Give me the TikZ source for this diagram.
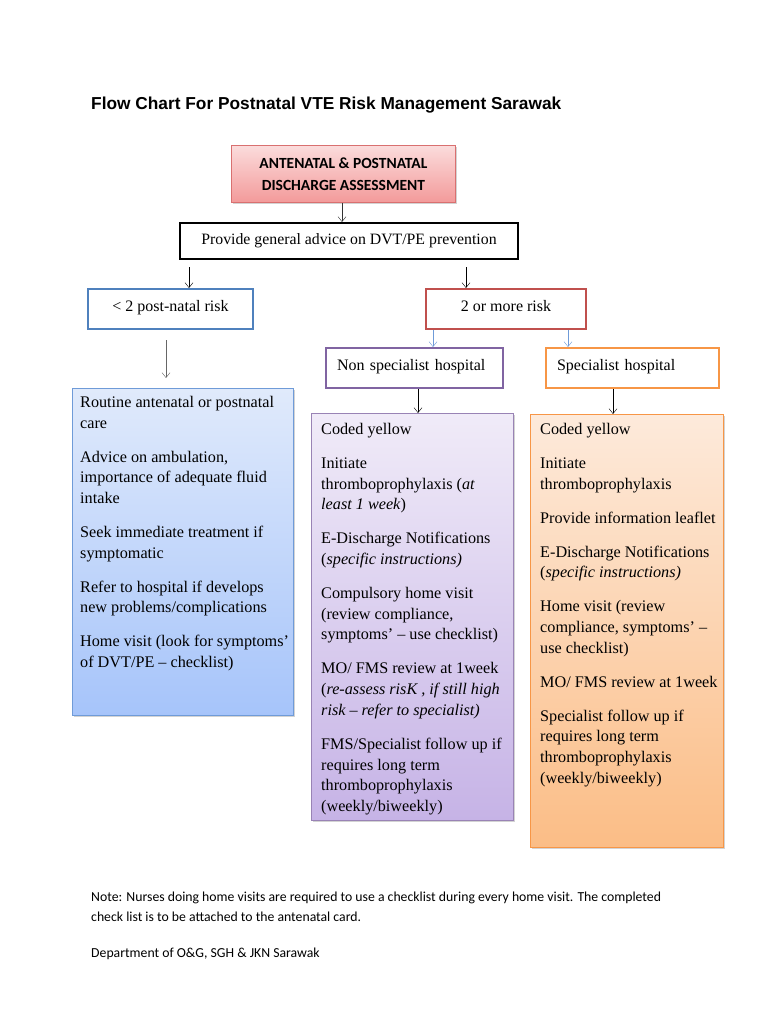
\documentclass[tikz,border=0pt]{standalone}
\usepackage{fontspec}
\setmainfont{Liberation Serif}
\newfontfamily\titlefont{Liberation Sans}
\newfontfamily\notefont{Carlito}
\usetikzlibrary{arrows.meta,shadows}
\tikzset{>={Straight Barb[length=5pt,width=8pt]}}
\definecolor{pinktop}{HTML}{FBDCDC}
\definecolor{pinkbot}{HTML}{F39A9A}
\definecolor{pinkline}{HTML}{D97070}
\definecolor{bluetop}{HTML}{E0EAFB}
\definecolor{bluebot}{HTML}{A6C4FA}
\definecolor{blueline}{HTML}{4F81BD}
\definecolor{bluesoft}{HTML}{6F9BD8}
\definecolor{redline}{HTML}{C0504D}
\definecolor{purptop}{HTML}{F0EBF8}
\definecolor{purpbot}{HTML}{C6B3E6}
\definecolor{purpline}{HTML}{8064A2}
\definecolor{orgtop}{HTML}{FDEADB}
\definecolor{orgbot}{HTML}{FBBD86}
\definecolor{orgline}{HTML}{F79646}
\tikzset{
  boxtext/.style={anchor=north west, inner sep=0pt, align=left,
    font=\fontsize{16.2}{20.7}\selectfont},
  bigbox/.style={draw, line width=0.8pt, anchor=north west,
    drop shadow={shadow xshift=2pt, shadow yshift=-2pt, opacity=0.35}},
  riskbox/.style={draw, line width=2pt, fill=white, anchor=north west,
    font=\fontsize{16}{18}\selectfont}
}
\newcommand{\gap}{\\[13.3pt]}

\begin{document}
\begin{tikzpicture}[x=1pt,y=-1pt]
  \useasboundingbox (0,0) rectangle (768,1024);
  % title
  \node[anchor=base west, inner sep=0pt, font=\titlefont\bfseries\fontsize{17.3}{20}\selectfont]
    (title) at (91,110) {Flow Chart For Postnatal VTE Risk Management Sarawak};
  % top boxes
  \node[bigbox, draw=pinkline, top color=pinktop, bottom color=pinkbot,
    minimum width=224pt, minimum height=57pt, align=center,
    font=\notefont\bfseries\fontsize{15.5}{22}\selectfont]
    (assess) at (231,145) {ANTENATAL \& POSTNATAL\\DISCHARGE ASSESSMENT};
  \node[draw, line width=2pt, anchor=north west, minimum width=338pt, minimum height=36pt,
    font=\fontsize{15.8}{18}\selectfont]
    (advice) at (179,222) {Provide general advice on DVT/PE prevention};
  \node[riskbox, draw=blueline, minimum width=165pt, minimum height=40pt, text depth=6pt]
    (lowrisk) at (87,288) {< 2 post-natal risk};
  \node[riskbox, draw=redline, minimum width=160pt, minimum height=40pt, text depth=6pt]
    (highrisk) at (425,288) {2 or more risk};
  \node[riskbox, draw=purpline, minimum width=177pt, minimum height=40pt, text depth=6pt,
    inner xsep=0pt, text width=155pt, align=left]
    (nonspec) at (325,347) {Non specialist hospital};
  \node[riskbox, draw=orgline, minimum width=173pt, minimum height=40pt, text depth=6pt,
    inner xsep=0pt, text width=151pt, align=left]
    (spec) at (545,347) {Specialist hospital};
  % big boxes
  \node[bigbox, draw=bluesoft, top color=bluetop, bottom color=bluebot,
    minimum width=221pt, minimum height=327pt] (lowcare) at (72,388) {};
  \node[bigbox, draw=purpline!80, top color=purptop, bottom color=purpbot,
    minimum width=202pt, minimum height=407pt] (noncare) at (311,413) {};
  \node[bigbox, draw=orgline, top color=orgtop, bottom color=orgbot,
    minimum width=193pt, minimum height=433pt] (speccare) at (530,414) {};
  \node[boxtext] (lowtext) at ([shift={(8,8)}]lowcare.north west)
    {Routine antenatal or postnatal\\care\gap
     Advice on ambulation,\\importance of adequate fluid\\intake\gap
     Seek immediate treatment if\\symptomatic\gap
     Refer to hospital if develops\\new problems/complications\gap
     Home visit (look for symptoms'\\of DVT/PE -- checklist)};
  \node[boxtext] (nontext) at ([shift={(10,10)}]noncare.north west)
    {Coded yellow\gap
     Initiate\\thromboprophylaxis (\textit{at}\\\textit{least 1 week})\gap
     E-Discharge Notifications\\(\textit{specific instructions)}\gap
     Compulsory home visit\\(review compliance,\\symptoms' -- use checklist)\gap
     MO/ FMS review at 1week\\(\textit{re-assess risK , if still high}\\\textit{risk -- refer to specialist)}\gap
     FMS/Specialist follow up if\\requires long term\\thromboprophylaxis\\(weekly/biweekly)};
  \node[boxtext] (spectext) at ([shift={(10,9)}]speccare.north west)
    {Coded yellow\gap
     Initiate\\thromboprophylaxis\gap
     Provide information leaflet\gap
     E-Discharge Notifications\\(\textit{specific instructions)}\gap
     Home visit (review\\compliance, symptoms' --\\use checklist)\gap
     MO/ FMS review at 1week\gap
     Specialist follow up if\\requires long term\\thromboprophylaxis\\(weekly/biweekly)};
  % arrows
  \draw[->, gray!40!black] (assess.south -| 342,0) -- (advice.north -| 342,0);
  \draw[->, shorten <=7pt] (advice.south -| 189,0) -- (lowrisk.north -| 189,0);
  \draw[->, shorten <=7pt] (advice.south -| 466,0) -- (highrisk.north -| 466,0);
  \draw[->, gray!80!black, shorten <=10pt, shorten >=10pt] (lowrisk.south -| 166,0) -- (lowcare.north -| 166,0);
  \draw[->, bluesoft] (highrisk.south -| 433,0) -- (nonspec.north -| 433,0);
  \draw[->, bluesoft] (highrisk.south -| 568,0) -- (spec.north -| 568,0);
  \draw[->] (nonspec.south -| 418,0) -- (noncare.north -| 418,0);
  \draw[->] (spec.south -| 613,0) -- (speccare.north -| 613,0);
  % note
  \node[anchor=north west, inner sep=0pt, align=left, font=\notefont\fontsize{13.75}{20}\selectfont]
    (note) at (91,892) {Note: Nurses doing home visits are required to use a checklist during every home visit. The completed\\check list is to be attached to the antenatal card.};
  \node[anchor=north west, inner sep=0pt, font=\notefont\fontsize{13.75}{20}\selectfont]
    (dept) at (91,948) {Department of O\&G, SGH \& JKN Sarawak};
\end{tikzpicture}
\end{document}
